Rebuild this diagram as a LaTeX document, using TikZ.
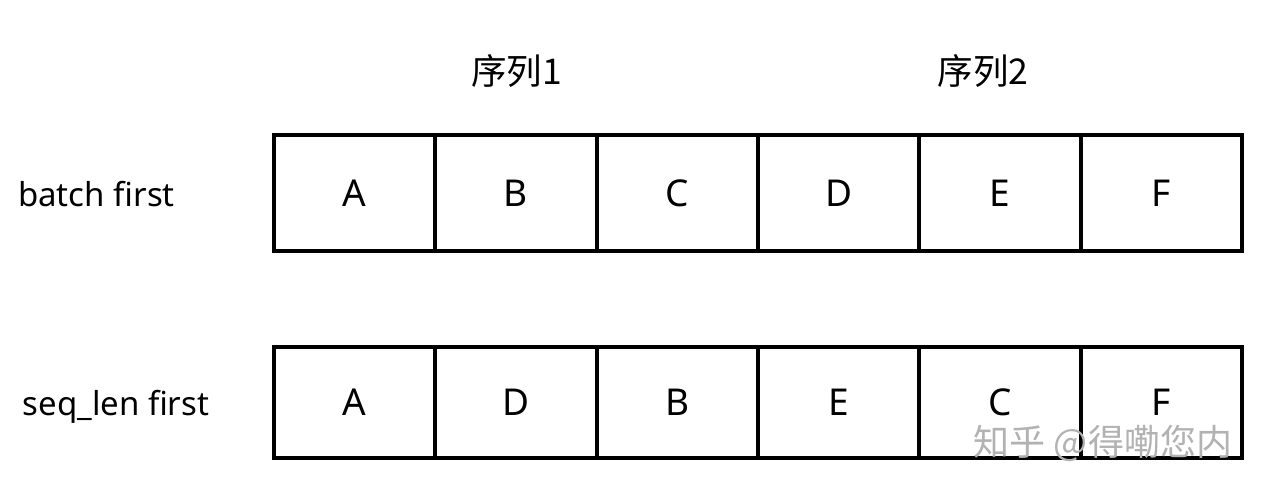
\documentclass[tikz,border=0pt]{standalone}
\usepackage{fontspec}
\setmainfont{Noto Sans}
\newfontfamily\cjk{Noto Sans CJK SC}
\begin{document}
\begin{tikzpicture}[x=1pt,y=-1pt,
  cell/.style={draw=black,line width=4pt,minimum width=161.33pt,minimum height=116pt,inner sep=0pt,outer sep=0pt,
    font=\fontsize{37}{44}\selectfont,text height=26.5pt,text depth=0pt},
  rowlabel/.style={font=\fontsize{33}{40}\selectfont,anchor=base,inner sep=0pt},
  seqlabel/.style={font=\cjk\fontsize{35.5}{40}\selectfont,anchor=base,inner sep=0pt},
  wm/.style={font=\cjk\fontsize{36}{40}\selectfont,text=black!30,anchor=base,inner sep=0pt}]
\useasboundingbox (0,0) rectangle (1276,494);
\fill[white] (0,0) rectangle (1276,494);
% row 1
\foreach \t [count=\i] in {A,B,C,D,E,F}{
  \node[cell] (r1c\i) at ({274+161.33*(\i-0.5)},193.5) {\t};
}
% row 2
\foreach \t [count=\i] in {A,D,B,E,C,F}{
  \node[cell,minimum height=111pt] (r2c\i) at ({274+161.33*(\i-0.5)},402.5) {\t};
}
\node[rowlabel] (lab1) at (96.5,207) {batch first};
\node[rowlabel] (lab2) at (116,415) {seq\_len first};
\node[seqlabel] (s1) at (516.5,85) {序列1};
\node[seqlabel] (s2) at (983,85) {序列2};
\node[wm] (wmk) at (1103,455) {知乎 @得嘞您内};
\end{tikzpicture}
\end{document}
